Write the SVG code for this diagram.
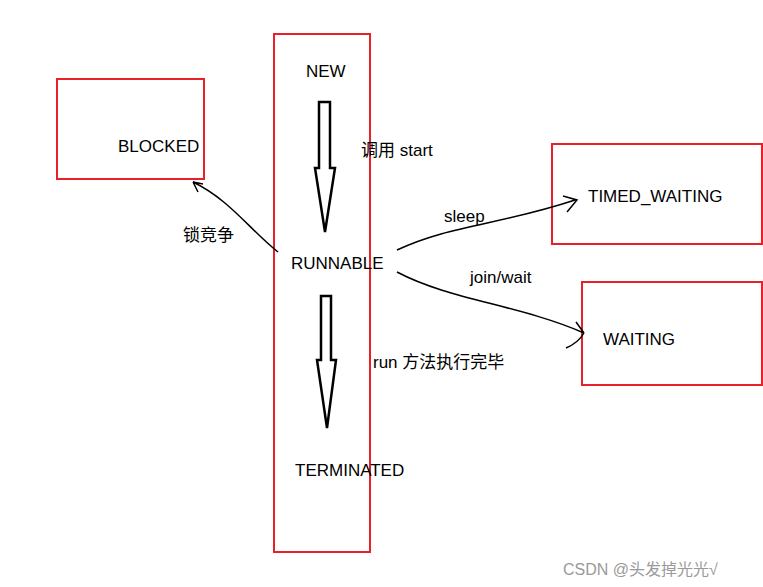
<svg xmlns="http://www.w3.org/2000/svg" width="763" height="587" viewBox="0 0 763 587">
<style>
.box{fill:none;stroke:#e8202a;stroke-width:2}
.t{font-family:"Liberation Sans","Noto Sans CJK SC",sans-serif;font-size:17px;fill:#000}
.c{fill:none;stroke:#000;stroke-width:1.5}
.blk{fill:#fff;stroke:#000;stroke-width:2.5;stroke-linejoin:miter}
</style>
<rect width="763" height="587" fill="#fff"/>
<g id="main"><rect class="box" x="274" y="34" width="96" height="518"/></g>
<g id="new"><text class="t" x="306" y="77">NEW</text></g>
<g id="runnable"><text class="t" x="291" y="269">RUNNABLE</text></g>
<g id="terminated"><text class="t" x="295" y="476">TERMINATED</text></g>
<g id="blocked"><rect class="box" x="57" y="79" width="147" height="100"/><text class="t" x="118" y="152">BLOCKED</text></g>
<g id="timed"><rect class="box" x="552" y="144" width="210" height="100"/><text class="t" x="588" y="202">TIMED_WAITING</text></g>
<g id="waiting"><rect class="box" x="582" y="282" width="180" height="103"/><text class="t" x="603" y="345">WAITING</text></g>
<g id="connectors">
<path class="blk" d="M319,102 H330 V168 H335 L325,232 L315,168 H319 Z"/>
<path class="blk" d="M321,296 H331 V360 H336 L327,428 L317,360 H321 Z"/>
<path class="c" d="M278,252 C250,230 230,200 193,182 M193,182 L203,184 M193,182 L198,192"/>
<path class="c" d="M397,250 C450,225 500,225 575,200 M563,196 L577,200 L567,212"/>
<path class="c" d="M397,272 C450,300 520,305 584,333 M576,322 L584,333 M584,333 C580,340 573,345 566,348"/>
<text class="t" x="361" y="156">调用 start</text>
<text class="t" x="183" y="241">锁竞争</text>
<text class="t" x="444" y="222">sleep</text>
<text class="t" x="470" y="283">join/wait</text>
<text class="t" x="373" y="368">run 方法执行完毕</text>
</g>
<text class="t" x="563" y="575" style="fill:#9a9a9a;font-size:16px">CSDN @头发掉光光√</text>
</svg>
